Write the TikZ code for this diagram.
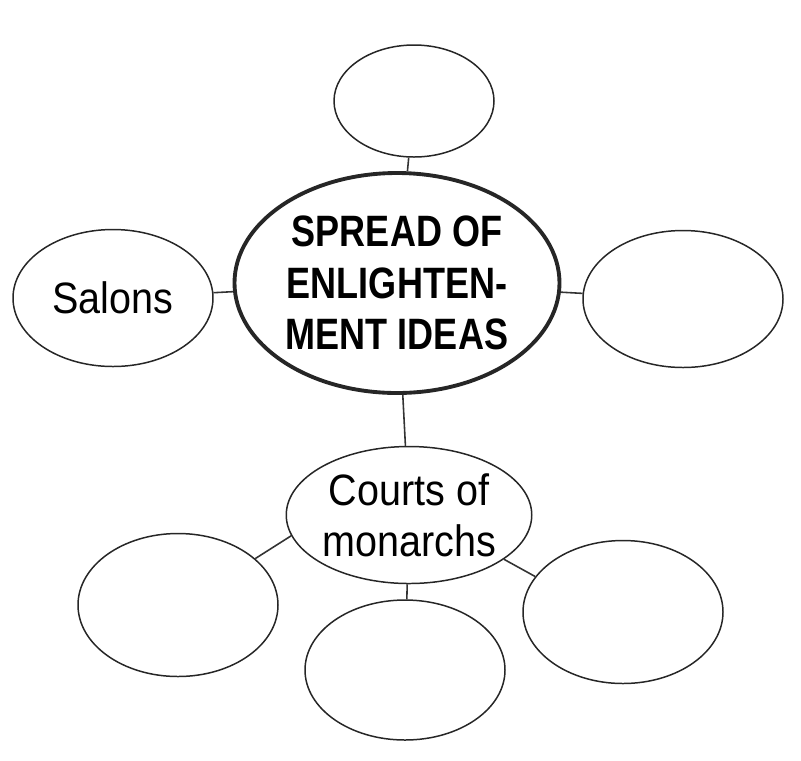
\documentclass[tikz,border=0pt]{standalone}
\usepackage{fontspec}
\setmainfont{Liberation Sans}[FakeStretch=0.9]
\newfontfamily\boldcond{Liberation Sans}[FakeStretch=0.82,UprightFont=*-Bold]
\usetikzlibrary{shapes.geometric}

\tikzset{
  bubble/.style={ellipse, draw=black!85, line width=0.85pt, inner sep=0pt, align=center,
    font=\fontsize{25}{29}\selectfont},
  hub/.style={bubble, line width=2.2pt, font=\boldcond\fontsize{25}{29.5}\selectfont},
  link/.style={draw=black!80, line width=0.9pt}
}

\begin{document}
\begin{tikzpicture}
  \useasboundingbox (0, 0) rectangle (16.02, -15.2);

  % Main idea
  \node[hub, minimum width=6.5cm, minimum height=4.4cm] (spread) at (7.94, -5.66) {SPREAD OF\\ENLIGHTEN-\\MENT IDEAS};

  % First ring
  \node[bubble, minimum width=3.2cm, minimum height=2.24cm] (top) at (8.28, -2.02) {};
  \node[bubble, minimum width=4.0cm, minimum height=2.74cm] (salons) at (2.26, -5.96) {Salons};
  \node[bubble, minimum width=4.0cm, minimum height=2.74cm] (right) at (13.66, -5.98) {};
  \node[bubble, minimum width=4.56cm, minimum height=2.74cm] (courts) at (8.18, -10.3) {Courts of\\monarchs};

  % Second ring below the courts
  \node[bubble, minimum width=4.0cm, minimum height=2.86cm] (botleft) at (3.56, -12.1) {};
  \node[bubble, minimum width=4.0cm, minimum height=2.8cm] (botmid) at (8.1, -13.4) {};
  \node[bubble, minimum width=4.0cm, minimum height=2.86cm] (botright) at (12.46, -12.24) {};

  % Connectors
  \draw[link] (top) -- (spread);
  \draw[link] (salons) -- (spread);
  \draw[link] (right) -- (spread);
  \draw[link] (spread) -- (courts);
  \draw[link] (courts.190) -- (botleft.31);
  \draw[link] (courts.335) -- (botright.158);
  \draw[link] (courts) -- (botmid);
\end{tikzpicture}
\end{document}
